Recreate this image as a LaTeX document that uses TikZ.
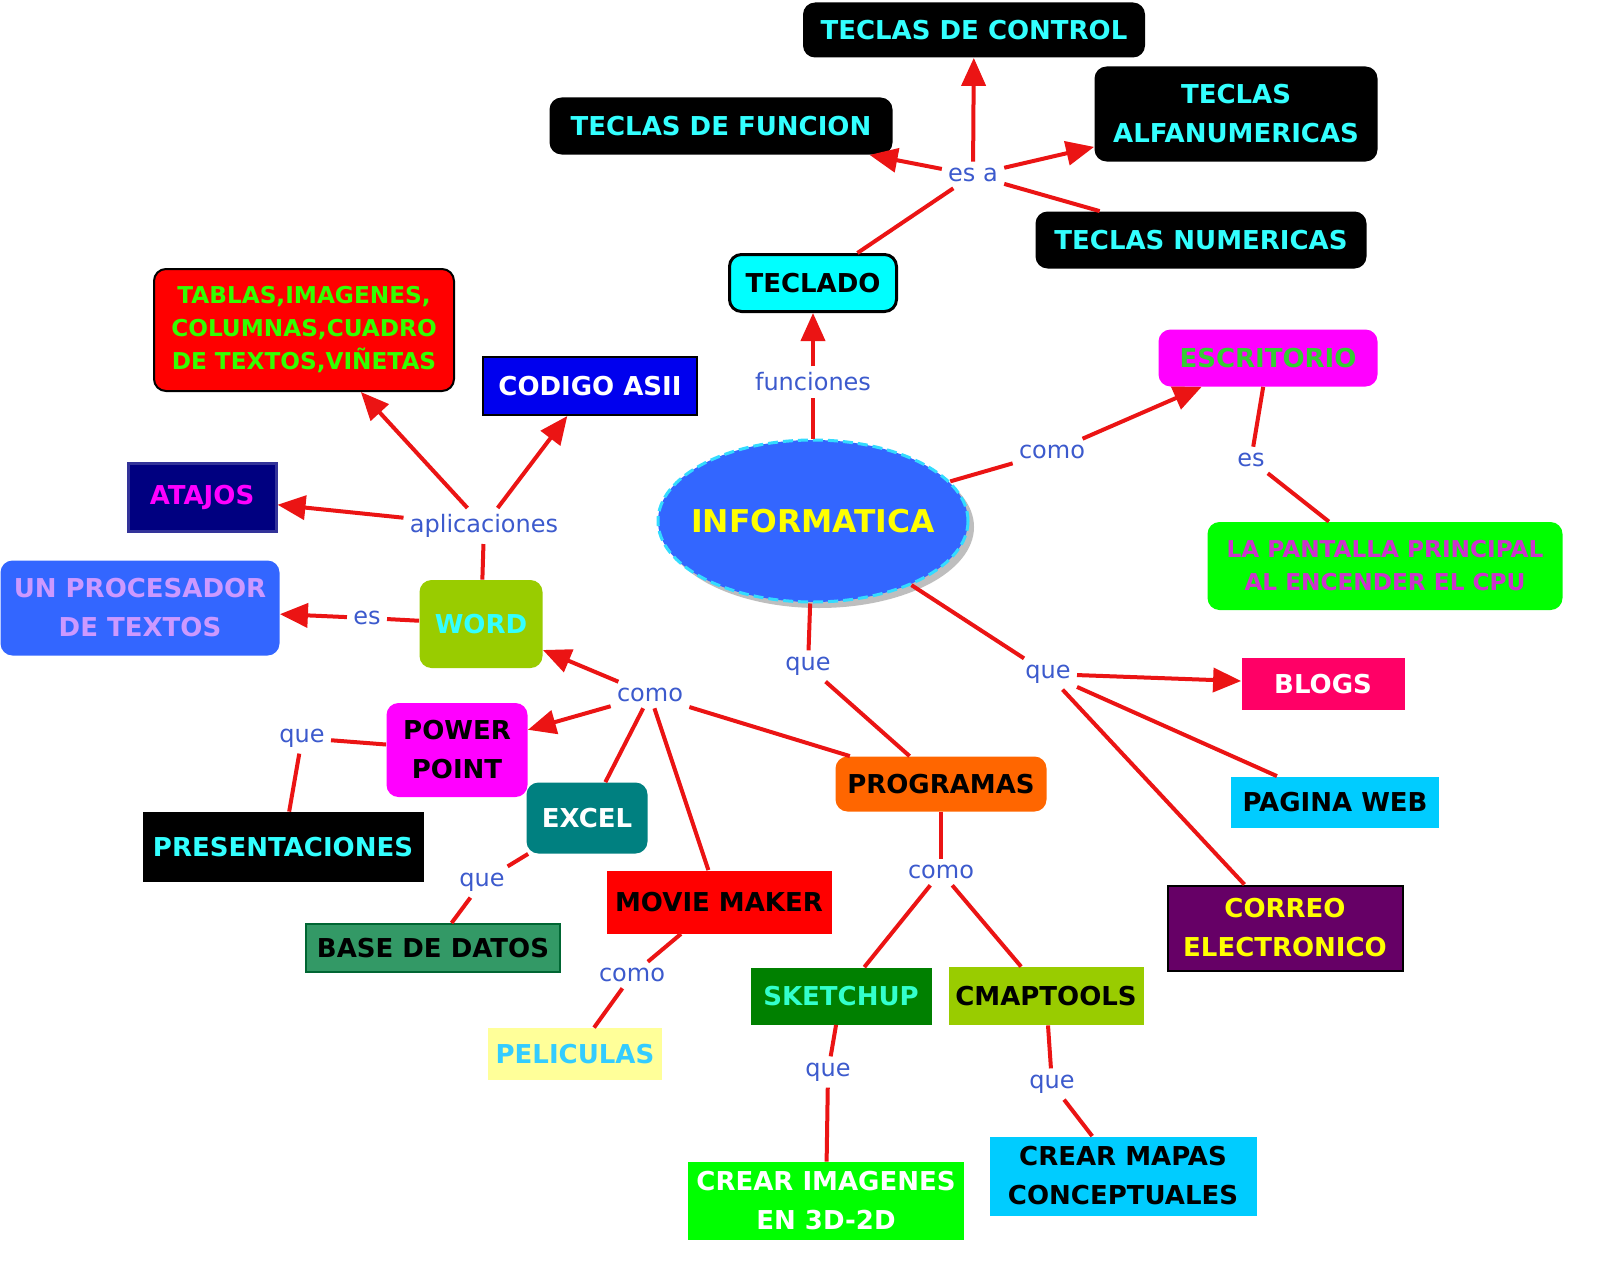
\documentclass[tikz,border=0pt]{standalone}
\usepackage{fontspec}
\usetikzlibrary{arrows.meta,shapes.geometric,shadows}
\newfontfamily\dejavu{DejaVu Sans}
\newcommand\boxtxt{\dejavu\bfseries\fontsize{13}{19.5}\selectfont}
\newcommand\smalltxt{\dejavu\bfseries\fontsize{11.6}{16.5}\selectfont}
\newcommand\bigtxt{\dejavu\bfseries\fontsize{15.7}{18}\selectfont}
\newcommand\linktxt{\dejavu\fontsize{12}{14}\selectfont}
\definecolor{edge_red}{RGB}{235,20,20}
\definecolor{lbl_blue}{RGB}{60,90,205}
\definecolor{txt_cyan}{RGB}{51,255,255}
\definecolor{node_cyan}{RGB}{0,255,255}
\definecolor{edge_cyan}{RGB}{51,220,255}
\definecolor{node_blue}{RGB}{51,102,255}
\definecolor{txt_yellow}{RGB}{255,255,0}
\definecolor{node_magenta}{RGB}{255,0,255}
\definecolor{txt_green}{RGB}{51,204,51}
\definecolor{node_lime}{RGB}{0,255,0}
\definecolor{txt_magenta}{RGB}{204,51,204}
\definecolor{node_red}{RGB}{255,0,0}
\definecolor{txt_lime}{RGB}{51,255,0}
\definecolor{node_royal}{RGB}{0,0,238}
\definecolor{node_navy}{RGB}{0,0,128}
\definecolor{edge_navy}{RGB}{51,51,153}
\definecolor{txt_lavender}{RGB}{204,153,255}
\definecolor{node_olive}{RGB}{153,204,0}
\definecolor{node_teal}{RGB}{0,128,128}
\definecolor{node_sea}{RGB}{51,153,102}
\definecolor{edge_sea}{RGB}{0,102,51}
\definecolor{node_cream}{RGB}{255,255,153}
\definecolor{txt_sky}{RGB}{51,204,255}
\definecolor{node_orange}{RGB}{255,102,0}
\definecolor{node_green}{RGB}{0,128,0}
\definecolor{txt_aqua}{RGB}{51,255,204}
\definecolor{node_sky}{RGB}{0,204,255}
\definecolor{node_pink}{RGB}{255,0,102}
\definecolor{node_purple}{RGB}{102,0,102}
\definecolor{node_shadow}{RGB}{190,190,190}

\begin{document}
\begin{tikzpicture}[x=0.5pt,y=-0.5pt,>={Triangle[length=14pt,width=12pt]}]
    \tikzstyle{box}=[rectangle, inner sep=0pt, align=center, font=\boxtxt]
    \tikzstyle{rbox}=[style=box, rounded corners=6pt]
    \tikzstyle{lbl}=[inner sep=3pt, font=\linktxt, text=lbl_blue]
    \tikzstyle{every edge}=[draw=edge_red, line width=2pt]
    \useasboundingbox[fill=white] (0,0) rectangle (1600,1268);

    % teclado
    \node[rbox, fill=black, text=txt_cyan, minimum width=171pt, minimum height=27.5pt] (tctrl) at (974,30) {TECLAS DE CONTROL};
    \node[rbox, fill=black, text=txt_cyan, minimum width=171.5pt, minimum height=28.5pt] (tfun) at (721,126) {TECLAS DE FUNCION};
    \node[rbox, fill=black, text=txt_cyan, minimum width=141.5pt, minimum height=47.5pt] (talf) at (1236,114) {TECLAS\\ALFANUMERICAS};
    \node[rbox, fill=black, text=txt_cyan, minimum width=165.5pt, minimum height=28.5pt] (tnum) at (1201,240) {TECLAS NUMERICAS};
    \node[lbl] (esa) at (973,175) {es a};
    \node[rbox, fill=node_cyan, draw=black, line width=1.5pt, text=black, minimum width=83.5pt, minimum height=28.5pt] (tec) at (813,283) {TECLADO};
    \node[lbl] (fun) at (813,382) {funciones};

    \node[ellipse, fill=node_blue, draw=edge_cyan, line width=1.5pt, dash pattern=on 5pt off 2.5pt, font=\bigtxt, text=txt_yellow, inner xsep=-14pt, inner ysep=0pt, minimum width=155pt, minimum height=81pt, drop shadow={fill=node_shadow, opacity=1, shadow xshift=3pt, shadow yshift=-3pt}] (inf) at (813,521) {INFORMATICA};

    % escritorio
    \node[rbox, fill=node_magenta, text=txt_green, minimum width=109.5pt, minimum height=28.5pt] (esc) at (1268,358) {ESCRITORIO};
    \node[lbl] (es1) at (1251,460) {es};
    \node[rbox, fill=node_lime, text=txt_magenta, font=\smalltxt, minimum width=177.5pt, minimum height=44pt] (pant) at (1385,566) {LA PANTALLA PRINCIPAL\\AL ENCENDER EL CPU};
    \node[lbl] (como1) at (1052,452) {como};

    % word
    \node[rbox, fill=node_red, draw=black, line width=1pt, text=txt_lime, font=\smalltxt, minimum width=150pt, minimum height=61pt] (tabl) at (304,330) {TABLAS,IMAGENES,\\COLUMNAS,CUADRO\\DE TEXTOS,VIÑETAS};
    \node[box, fill=node_royal, draw=black, line width=1pt, text=white, minimum width=107pt, minimum height=29pt] (cod) at (590,386) {CODIGO ASII};
    \node[box, fill=node_navy, draw=edge_navy, line width=1.5pt, text=node_magenta, minimum width=74pt, minimum height=34pt] (ataj) at (202,497) {ATAJOS};
    \node[lbl] (apl) at (484,526) {aplicaciones};
    \node[rbox, fill=node_blue, text=txt_lavender, minimum width=139.5pt, minimum height=47.5pt] (proc) at (140,608) {UN PROCESADOR\\DE TEXTOS};
    \node[lbl] (es2) at (367,618) {es};
    \node[rbox, fill=node_olive, text=txt_cyan, minimum width=61.5pt, minimum height=44pt] (word) at (481,624) {WORD};
    \node[lbl] (como2) at (650,695) {como};

    % power point, excel, movie maker
    \node[rbox, fill=node_magenta, text=black, minimum width=70.5pt, minimum height=47pt] (ppt) at (457,750) {POWER\\POINT};
    \node[lbl] (que1) at (302,738) {que};
    \node[box, fill=black, text=txt_cyan, minimum width=140.5pt, minimum height=35pt] (pres) at (283,847) {PRESENTACIONES};
    \node[rbox, fill=node_teal, text=white, minimum width=60.5pt, minimum height=35.5pt] (exc) at (587,818) {EXCEL};
    \node[lbl] (que2) at (482,882) {que};
    \node[box, fill=node_sea, draw=edge_sea, line width=1pt, text=black, minimum width=127pt, minimum height=24pt] (base) at (433,948) {BASE DE DATOS};
    \node[box, fill=node_red, text=black, minimum width=112.5pt, minimum height=31.5pt] (movie) at (719,902) {MOVIE MAKER};
    \node[lbl] (como3) at (632,975) {como};
    \node[box, fill=node_cream, text=txt_sky, minimum width=87pt, minimum height=26pt] (peli) at (575,1054) {PELICULAS};

    % programas
    \node[lbl] (que3) at (808,666) {que};
    \node[rbox, fill=node_orange, text=black, minimum width=105.5pt, minimum height=27.5pt] (prog) at (941,784) {PROGRAMAS};
    \node[lbl] (como4) at (941,872) {como};
    \node[box, fill=node_green, text=txt_aqua, minimum width=90.5pt, minimum height=28.5pt] (sket) at (841,996) {SKETCHUP};
    \node[box, fill=node_olive, text=black, minimum width=97.5pt, minimum height=29pt] (cmap) at (1046,996) {CMAPTOOLS};
    \node[lbl] (que4) at (828,1072) {que};
    \node[box, fill=node_lime, text=white, minimum width=138pt, minimum height=39pt] (img) at (826,1201) {CREAR IMAGENES\\EN 3D-2D};
    \node[lbl] (que5) at (1052,1084) {que};
    \node[box, fill=node_sky, text=black, minimum width=133.5pt, minimum height=39.5pt] (mapas) at (1123,1176) {CREAR MAPAS\\CONCEPTUALES};

    % internet
    \node[lbl] (que6) at (1048,674) {que};
    \node[box, fill=node_pink, text=white, minimum width=81.5pt, minimum height=26pt] (blogs) at (1323,684) {BLOGS};
    \node[box, fill=node_sky, text=black, minimum width=104pt, minimum height=25.5pt] (web) at (1335,802) {PAGINA WEB};
    \node[box, fill=node_purple, draw=black, line width=1pt, text=txt_yellow, minimum width=117.5pt, minimum height=42.5pt] (correo) at (1285,928) {CORREO\\ELECTRONICO};

    \path
     (inf)   edge (fun)
     (fun)   edge[->] (tec)
     (tec)   edge (esa)
     (esa)   edge[->] (tfun)
     (esa)   edge[->] (tctrl)
     (esa)   edge[->] (talf)
     (esa)   edge (tnum)
     (inf)   edge (como1)
     (como1) edge[->] (esc)
     (esc)   edge (es1)
     (es1)   edge (pant)
     (inf)   edge (que3)
     (que3)  edge (prog)
     (inf)   edge (que6)
     (que6)  edge[->] (blogs)
     (que6)  edge (web)
     (que6)  edge (correo)
     (prog)  edge (como2)
     (como2) edge[->] (word)
     (como2) edge[->] (ppt)
     (como2) edge (exc)
     (como2) edge (movie)
     (word)  edge (apl)
     (apl)   edge[->] (tabl)
     (apl)   edge[->] (cod)
     (apl)   edge[->] (ataj)
     (word)  edge (es2)
     (es2)   edge[->] (proc)
     (ppt)   edge (que1)
     (que1)  edge (pres)
     (exc)   edge (que2)
     (que2)  edge (base)
     (movie) edge (como3)
     (como3) edge (peli)
     (prog)  edge (como4)
     (como4) edge (sket)
     (como4) edge (cmap)
     (sket)  edge (que4)
     (que4)  edge (img)
     (cmap)  edge (que5)
     (que5)  edge (mapas)
     ;
\end{tikzpicture}
\end{document}
